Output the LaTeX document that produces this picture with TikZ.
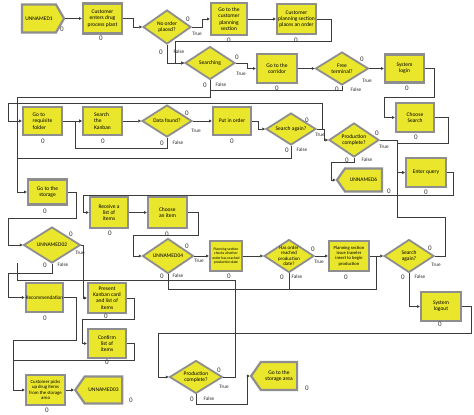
\documentclass[tikz,border=0pt]{standalone}
\usepackage{fontspec}
\setmainfont{Carlito}
\usetikzlibrary{shapes.geometric,shapes.symbols,arrows.meta}
\definecolor{boxyel}{HTML}{EAE62C}
\definecolor{boxgray}{HTML}{8E8E8E}
\definecolor{linec}{HTML}{3C3C3C}
\begin{document}
\begin{tikzpicture}[x=1pt,y=-1pt,
  box/.style={draw=boxgray, line width=2.4pt, fill=boxyel, inner sep=0pt, align=center, font=\fontsize{5.5}{6.3}\selectfont},
  dec/.style={diamond, draw=boxgray, line width=1.8pt, fill=boxyel, inner sep=0pt},
  dtext/.style={align=center, font=\fontsize{5.5}{6.3}\selectfont},
  pentR/.style={signal, signal to=east, signal pointer angle=120, draw=boxgray, line width=2.2pt, fill=boxyel, inner sep=0pt, font=\fontsize{5.5}{6.3}\selectfont, align=center},
  pentL/.style={signal, signal to=west, signal pointer angle=110, draw=boxgray, line width=2.2pt, fill=boxyel, inner sep=0pt, font=\fontsize{5.5}{6.3}\selectfont, align=center},
  conn/.style={draw=linec, line width=0.75pt, -{Triangle[length=2.8pt,width=2.8pt]}},
  wire/.style={draw=linec, line width=0.75pt},
  zero/.style={font=\fontsize{7}{7}\selectfont, inner sep=0pt, text=black!80},
  tf/.style={font=\fontsize{5.2}{5.5}\selectfont, inner sep=0pt, text=black!85}
]
\useasboundingbox[fill=white] (0,0) rectangle (474,415);

% ---------- nodes ----------
\node[pentR, minimum width=42pt, minimum height=28pt] (u1) at (39,18.5) {UNNAMED1};
\node[box, minimum width=39pt, minimum height=30pt] (cust) at (102.5,18.5) {Customer\\enters drug\\process plant};
\node[dec, minimum width=48pt, minimum height=34pt, label={[dtext]center:No order\\placed?}] (noorder) at (167,27) {};
\node[box, minimum width=36pt, minimum height=32pt] (gocust) at (229,19) {Go to the\\customer\\planning\\section};
\node[box, minimum width=39pt, minimum height=30pt] (cplan) at (296.5,19) {Customer\\planning section\\places an order};

\node[dec, minimum width=50pt, minimum height=33pt, label={[dtext]center:Searching}] (searching) at (210,63) {};
\node[box, minimum width=40pt, minimum height=29pt] (corridor) at (277,68.5) {Go to the\\corridor};
\node[dec, minimum width=53pt, minimum height=33pt, label={[dtext]center:Free\\terminal?}] (freeterm) at (342,68.5) {};
\node[box, minimum width=39pt, minimum height=28pt] (login) at (404.5,68.5) {System\\login};

\node[box, minimum width=39pt, minimum height=28pt, align=left] (reqfolder) at (42.5,121) {Go to\\requisite\\folder};
\node[box, minimum width=39pt, minimum height=28pt, align=left] (kanban) at (102.5,121) {Search\\the\\Kanban};
\node[dec, minimum width=50pt, minimum height=32pt, label={[dtext]center:Data found?}] (datafound) at (167,121) {};
\node[box, minimum width=38pt, minimum height=28pt] (putorder) at (232,121) {Put in order};
\node[dec, minimum width=50pt, minimum height=32pt, label={[dtext]center:Search again?}] (searchagain1) at (291,129) {};
\node[dec, minimum width=50pt, minimum height=34pt, label={[dtext]center:Production\\complete?}] (prodcomp1) at (354,140) {};
\node[box, minimum width=38pt, minimum height=29pt] (choosesearch) at (415,117.5) {Choose\\Search};
\node[pentL, minimum width=45pt, minimum height=23pt] (unnamed6) at (363.5,180) {UNNAMED6};
\node[box, minimum width=40pt, minimum height=29pt] (enterquery) at (426,172.5) {Enter query};

\node[box, minimum width=39pt, minimum height=25pt] (gostorage) at (47.5,192) {Go to the\\storage};
\node[box, minimum width=38pt, minimum height=31pt] (receive) at (109,212.5) {Receive a\\list of\\items};
\node[box, minimum width=39pt, minimum height=31pt, align=left] (chooseitem) at (167.5,212.5) {Choose\\an item};
\node[dec, minimum width=57pt, minimum height=36pt, label={[dtext]center:UNNAMED02}] (unnamed02) at (52,245) {};
\node[dec, minimum width=51pt, minimum height=35pt, label={[dtext]center:UNNAMED04}] (unnamed04) at (168,256) {};
\node[box, minimum width=32pt, minimum height=30pt, font=\fontsize{3.7}{4.4}\selectfont] (plancheck) at (226,256) {Planning section\\checks whether\\order has reached\\production date};
\node[dec, minimum width=50pt, minimum height=33pt, label={[dtext,font=\fontsize{4.9}{5.4}\selectfont]center:Has order\\reached\\production\\date?}] (hasorder) at (289,256) {};
\node[box, minimum width=40pt, minimum height=30pt, font=\fontsize{4.6}{5.3}\selectfont] (planissue) at (349,256) {Planning section\\issue traveler\\insert to begin\\production};
\node[dec, minimum width=50pt, minimum height=33pt, label={[dtext]center:Search\\again?}] (searchagain2) at (409,256) {};

\node[box, minimum width=37pt, minimum height=29pt, font=\fontsize{5.2}{6}\selectfont] (recommend) at (44.5,297.5) {Recommendation};
\node[box, minimum width=38pt, minimum height=30pt] (presentk) at (107,298) {Present\\Kanban card\\and list of\\items};
\node[box, minimum width=38pt, minimum height=29pt] (confirm) at (107,343.5) {Confirm\\list of\\items};
\node[box, minimum width=40pt, minimum height=29pt] (logout) at (441,306.5) {System\\logout};
\node[box, minimum width=39pt, minimum height=30pt, font=\fontsize{4.8}{5.5}\selectfont] (pickup) at (45.5,390) {Customer picks\\up drug items\\from the storage\\area};
\node[pentL, minimum width=47pt, minimum height=27pt] (unnamed03) at (103.5,390) {UNNAMED03};
\node[dec, minimum width=53pt, minimum height=33pt, label={[dtext]center:Production\\complete?}] (prodcomp2) at (196,377) {};
\node[pentL, minimum width=46pt, minimum height=28pt] (gostoragearea) at (279,376) {Go to the\\storage area};

% ---------- junction coordinates ----------
\coordinate (j1) at (175,41);
\coordinate (j2) at (384,97);
\coordinate (j3) at (210,90);
\coordinate (j4) at (17,97);
\coordinate (j5) at (17,158);
\coordinate (j6) at (8,103);
\coordinate (j7) at (75,148);
\coordinate (j8) at (331,162);
\coordinate (j9) at (397,143);
\coordinate (j10) at (397,217);
\coordinate (j11) at (83,195);
\coordinate (j12) at (133,235);
\coordinate (j13) at (376,289);
\coordinate (j14) at (158,333);
\coordinate (j15) at (17,280);
\coordinate (j16) at (247,404);
\coordinate (j17) at (8,218);
\coordinate (j18) at (8,273);
\coordinate (j19) at (82,319);
\coordinate (j20) at (13,340);
\coordinate (j21) at (13,360);

% ---------- connectors ----------
\draw[conn] (u1.east) -- (cust.west);
\draw[conn] (cust.east) -- ++(10,0) |- (noorder.west);
\draw[conn] (noorder.east) -- ++(10,0) |- (gocust.west);
\draw[conn] (gocust.east) -- (cplan.west);
\draw[conn] (cplan.east) -- ++(14,0) |- (j1) |- (searching.west);
\draw[conn] (noorder.south) |- (searching.west);
\draw[conn] (searching.east) -- ++(11,0) |- (corridor.west);
\draw[conn] (corridor.east) -- (freeterm.west);
\draw[conn] (freeterm.east) -- (login.west);
\draw[conn] (login.east) -- ++(9,0) |- (j2) |- (choosesearch.west);
\draw[wire] (freeterm.south) |- (j3);
\draw[conn] (searching.south) |- (j4) |- (gostorage.west);
\draw[wire] (searchagain1.south) |- (j5);
\draw[conn] (searchagain1.east) -- ++(5,0) |- (j6) |- (reqfolder.west);
\draw[conn] (reqfolder.east) -- (kanban.west);
\draw[conn] (kanban.east) -- (datafound.west);
\draw[conn] (datafound.south) |- (j7) |- (kanban.west);
\draw[conn] (datafound.east) -- (putorder.west);
\draw[conn] (putorder.east) -- ++(6,0) |- (searchagain1.west);
\draw[conn] (searchagain1.east) -- ++(7,0) |- (prodcomp1.west);
\draw[conn] (prodcomp1.south) |- (j8) |- (unnamed6.west);
\draw[conn] (choosesearch.east) -- ++(13,0) |- (j9) |- (enterquery.west);
\draw[wire] (prodcomp1.east) -| (j9);
\draw[conn] (searchagain2.east) -- ++(10,0) |- (j10) |- (enterquery.west);
\draw[conn] (enterquery.east) -- ++(6,0) |- (j11) |- (receive.west);
\draw[conn] (receive.east) -- (chooseitem.west);
\draw[conn] (chooseitem.east) -- ++(10,0) |- (j12) |- (unnamed04.west);
\draw[conn] (unnamed04.east) -- (plancheck.west);
\draw[conn] (plancheck.east) -- (hasorder.west);
\draw[conn] (hasorder.east) -- (planissue.west);
\draw[conn] (planissue.east) -- (searchagain2.west);
\draw[wire] (unnamed04.south) |- (j13) -- (j13 |- searchagain2.west);
\draw[wire] (hasorder.south) -- (hasorder.south |- j13);
\draw[conn] (searchagain2.south) |- (logout.west);
\draw[conn] (logout.east) -- ++(9,0) |- (j14) |- (prodcomp2.west);
\draw[wire] (prodcomp2.east) -- ++(12,0) |- (j15) -- ++(0,-17);
\draw[conn] (prodcomp2.south) |- (j16) |- (gostoragearea.west);
\draw[conn] (gostorage.east) -- ++(8,0) |- (j17) |- (unnamed02.west);
\draw[conn] (unnamed02.east) -- ++(2,0) |- (presentk.west);
\draw[conn] (unnamed02.south) |- (j18) |- (recommend.west);
\draw[conn] (presentk.east) -- ++(7,0) |- (j19) |- (confirm.west);
\draw[conn] (recommend.east) -- ++(12,0) |- (j20) |- (pickup.west);
\draw[wire] (confirm.east) -- ++(7,0) |- (j21);
\draw[conn] (pickup.east) -- (unnamed03.west);

% ---------- counters and branch labels ----------
\node[zero] (z1) at (62,29) {0};
\node[zero] (z2) at (101,38) {0};
\node[zero] (z3) at (188,19) {0};
\node[tf] (t3) at (197,34) {True};
\node[zero] (z3b) at (161,52) {0};
\node[tf] (f3) at (179,52) {False};
\node[zero] (z4) at (229,40) {0};
\node[zero] (z5) at (296,40) {0};
\node[zero] (z6) at (237,57) {0};
\node[tf] (t6) at (241,74) {True};
\node[zero] (z6b) at (205,85) {0};
\node[tf] (f6) at (221,85) {False};
\node[zero] (z7) at (277,88) {0};
\node[zero] (z8) at (362,59) {0};
\node[tf] (t8) at (367,81) {True};
\node[zero] (z8b) at (337,89) {0};
\node[tf] (f8) at (356,90) {False};
\node[zero] (z9) at (407,88) {0};
\node[zero] (z10) at (43,141) {0};
\node[zero] (z11) at (103,141) {0};
\node[zero] (z12) at (187,113) {0};
\node[tf] (t12) at (196,131) {True};
\node[zero] (z12b) at (162,143) {0};
\node[tf] (f12) at (178,143) {False};
\node[zero] (z13) at (232,141) {0};
\node[zero] (z14) at (307,120) {0};
\node[tf] (t14) at (320,135) {True};
\node[zero] (z14b) at (287,150) {0};
\node[tf] (f14) at (302,150) {False};
\node[zero] (z15) at (377,133) {0};
\node[tf] (t15) at (384,147) {True};
\node[zero] (z15b) at (347,160) {0};
\node[tf] (f15) at (367,160) {False};
\node[zero] (z16) at (416,137) {0};
\node[zero] (z17) at (389,191) {0};
\node[zero] (z18) at (426,192) {0};
\node[zero] (z19) at (45,211) {0};
\node[zero] (z20) at (110,233) {0};
\node[zero] (z21) at (167,234) {0};
\node[zero] (z22) at (71,234) {0};
\node[tf] (t22) at (80,253) {True};
\node[zero] (z22b) at (45,265) {0};
\node[tf] (f22) at (63,265) {False};
\node[zero] (z23) at (187,246) {0};
\node[tf] (t23) at (199,261) {True};
\node[zero] (z23b) at (162,276) {0};
\node[tf] (f23) at (178,276) {False};
\node[zero] (z24) at (229,276) {0};
\node[zero] (z25) at (313,249) {0};
\node[tf] (t25) at (319,262) {True};
\node[zero] (z25b) at (282,277) {0};
\node[tf] (f25) at (297,277) {False};
\node[zero] (z26) at (346,277) {0};
\node[zero] (z27) at (430,248) {0};
\node[tf] (t27) at (436,265) {True};
\node[zero] (z27b) at (403,277) {0};
\node[tf] (f27) at (420,277) {False};
\node[zero] (z28) at (440,324) {0};
\node[zero] (z29) at (106,316) {0};
\node[zero] (z30) at (45,318) {0};
\node[zero] (z31) at (107,362) {0};
\node[zero] (z32) at (47,410) {0};
\node[zero] (z33) at (131,400) {0};
\node[zero] (z34) at (219,370) {0};
\node[tf] (t34) at (224,387) {True};
\node[zero] (z34b) at (192,399) {0};
\node[tf] (f34) at (209,399) {False};
\node[zero] (z35) at (307,388) {0};
\end{tikzpicture}
\end{document}
